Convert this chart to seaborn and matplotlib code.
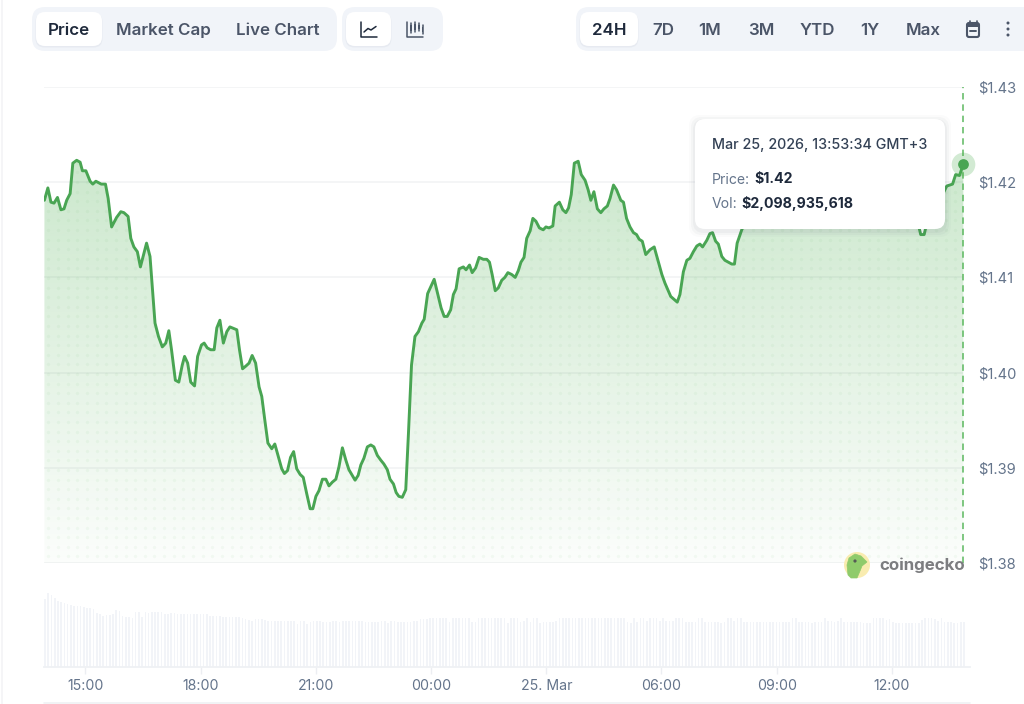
"""CoinGecko style 24H price chart with volume strip, drawn with seaborn."""

import matplotlib
matplotlib.use("Agg")
import matplotlib.pyplot as plt
import numpy as np
import pandas as pd
import seaborn as sns
from matplotlib.patches import Circle, FancyBboxPatch, PathPatch, Polygon, Rectangle
from matplotlib.path import Path

# hours counted from 00:00 on Mar 24
price_hours = [
    13.93, 14.02, 14.10, 14.18, 14.27, 14.36, 14.44, 14.51, 14.60, 14.67, 14.77, 14.86,
    14.92, 15.01, 15.12, 15.19, 15.27, 15.41, 15.52, 15.59, 15.68, 15.81, 15.92, 16.00,
    16.11, 16.18, 16.26, 16.35, 16.43, 16.59, 16.68, 16.77, 16.81, 16.90, 17.00, 17.09,
    17.17, 17.24, 17.34, 17.43, 17.52, 17.58, 17.66, 17.74, 17.84, 17.92, 18.02, 18.09,
    18.17, 18.26, 18.35, 18.42, 18.50, 18.59, 18.68, 18.76, 18.94, 19.01, 19.09, 19.18,
    19.26, 19.34, 19.43, 19.52, 19.59, 19.67, 19.75, 19.85, 19.93, 20.02, 20.11, 20.18,
    20.26, 20.34, 20.42, 20.50, 20.59, 20.67, 20.76, 20.85, 20.92, 21.00, 21.08, 21.17,
    21.26, 21.34, 21.43, 21.52, 21.60, 21.69, 21.78, 21.86, 22.02, 22.10, 22.17, 22.25,
    22.34, 22.43, 22.51, 22.60, 22.69, 22.77, 22.86, 22.93, 23.02, 23.09, 23.16, 23.25,
    23.34, 23.41, 23.49, 23.58, 23.67, 23.76, 23.82, 23.91, 24.00, 24.08, 24.17, 24.26,
    24.34, 24.42, 24.51, 24.58, 24.65, 24.73, 24.84, 24.91, 25.00, 25.07, 25.16, 25.25,
    25.36, 25.45, 25.52, 25.59, 25.67, 25.75, 25.84, 25.92, 26.00, 26.10, 26.19, 26.27,
    26.34, 26.42, 26.49, 26.58, 26.65, 26.73, 26.82, 26.92, 26.99, 27.07, 27.17, 27.23,
    27.34, 27.43, 27.51, 27.58, 27.65, 27.73, 27.83, 27.91, 28.01, 28.09, 28.16, 28.24,
    28.33, 28.42, 28.50, 28.59, 28.66, 28.75, 28.83, 28.94, 29.01, 29.09, 29.18, 29.27,
    29.35, 29.42, 29.50, 29.59, 29.70, 29.81, 29.92, 30.01, 30.09, 30.24, 30.41, 30.48,
    30.57, 30.66, 30.74, 30.83, 30.92, 31.00, 31.07, 31.18, 31.26, 31.33, 31.41, 31.48,
    31.57, 31.65, 31.83, 31.90, 31.97, 32.09, 32.23, 32.62, 33.22, 33.87, 34.52, 35.17,
    35.82, 36.34, 36.71, 36.75, 36.84, 36.88, 37.12, 37.43, 37.58, 37.66, 37.76, 37.86,
]
price_values = [
    1.4181, 1.4194, 1.4179, 1.4178, 1.4184, 1.4171, 1.4172, 1.4181, 1.4188, 1.4220, 1.4223, 1.4221,
    1.4212, 1.4212, 1.4201, 1.4198, 1.4201, 1.4198, 1.4198, 1.4183, 1.4153, 1.4163, 1.4169, 1.4168,
    1.4164, 1.4141, 1.4132, 1.4127, 1.4111, 1.4136, 1.4122, 1.4073, 1.4052, 1.4038, 1.4027, 1.4031,
    1.4044, 1.4024, 1.3992, 1.3990, 1.4008, 1.4017, 1.4010, 1.3990, 1.3986, 1.4017, 1.4029, 1.4031,
    1.4026, 1.4024, 1.4024, 1.4047, 1.4055, 1.4031, 1.4043, 1.4048, 1.4045, 1.4024, 1.4004, 1.4007,
    1.4010, 1.4018, 1.4010, 1.3985, 1.3975, 1.3950, 1.3926, 1.3920, 1.3925, 1.3912, 1.3899, 1.3894,
    1.3897, 1.3911, 1.3917, 1.3899, 1.3893, 1.3890, 1.3873, 1.3857, 1.3857, 1.3870, 1.3876, 1.3888,
    1.3888, 1.3881, 1.3885, 1.3888, 1.3901, 1.3921, 1.3908, 1.3898, 1.3887, 1.3892, 1.3903, 1.3910,
    1.3922, 1.3924, 1.3922, 1.3913, 1.3908, 1.3904, 1.3898, 1.3888, 1.3883, 1.3874, 1.3870, 1.3869,
    1.3877, 1.3936, 1.4008, 1.4038, 1.4043, 1.4052, 1.4056, 1.4083, 1.4091, 1.4098, 1.4083, 1.4068,
    1.4059, 1.4059, 1.4066, 1.4082, 1.4088, 1.4109, 1.4111, 1.4108, 1.4113, 1.4105, 1.4110, 1.4121,
    1.4119, 1.4119, 1.4116, 1.4103, 1.4086, 1.4089, 1.4097, 1.4100, 1.4105, 1.4103, 1.4100, 1.4107,
    1.4116, 1.4121, 1.4141, 1.4149, 1.4162, 1.4159, 1.4152, 1.4150, 1.4153, 1.4152, 1.4154, 1.4175,
    1.4179, 1.4171, 1.4168, 1.4173, 1.4187, 1.4220, 1.4222, 1.4208, 1.4202, 1.4192, 1.4181, 1.4190,
    1.4172, 1.4168, 1.4172, 1.4175, 1.4183, 1.4197, 1.4192, 1.4181, 1.4179, 1.4162, 1.4153, 1.4147,
    1.4145, 1.4140, 1.4138, 1.4124, 1.4129, 1.4132, 1.4116, 1.4103, 1.4094, 1.4080, 1.4074, 1.4082,
    1.4106, 1.4118, 1.4120, 1.4127, 1.4133, 1.4135, 1.4132, 1.4139, 1.4146, 1.4147, 1.4138, 1.4135,
    1.4122, 1.4118, 1.4114, 1.4114, 1.4136, 1.4150, 1.4162, 1.4176, 1.4181, 1.4190, 1.4183, 1.4176,
    1.4183, 1.4171, 1.4152, 1.4145, 1.4145, 1.4152, 1.4171, 1.4196, 1.4198, 1.4208, 1.4207, 1.4219,
]

# 24h volume in billions of USD, one bar every five minutes
volume_values = [
    3.16, 3.44, 3.36, 3.24, 3.10, 3.04, 2.99, 2.93, 2.88, 2.86, 2.86, 2.83, 2.80, 2.77, 2.74, 2.72,
    2.51, 2.46, 2.40, 2.44, 2.44, 2.46, 2.68, 2.62, 2.40, 2.34, 2.32, 2.29, 2.55, 2.55, 2.34, 2.55,
    2.52, 2.55, 2.57, 2.57, 2.55, 2.46, 2.46, 2.51, 2.51, 2.46, 2.46, 2.46, 2.46, 2.46, 2.46, 2.46,
    2.46, 2.46, 2.46, 2.40, 2.40, 2.40, 2.40, 2.34, 2.34, 2.34, 2.34, 2.34, 2.32, 2.29, 2.23, 2.18,
    2.16, 2.23, 2.23, 2.23, 2.20, 2.16, 2.16, 2.16, 2.16, 2.16,
    2.16, 2.16, 2.16, 2.16, 1.99, 2.16, 2.16, 1.99, 2.12, 2.16, 2.16, 2.16, 2.12, 2.12, 2.12, 2.16,
    2.16, 2.12, 2.16, 2.16, 2.16, 2.16, 2.16, 2.16, 2.16, 2.12, 2.12, 2.12, 2.12, 2.12, 2.16, 2.16,
    2.07, 2.16, 2.16, 2.12, 2.12, 2.12, 2.12, 2.12, 2.16, 2.16, 2.23, 2.23, 2.23, 2.27, 2.27, 2.27,
    2.27, 2.27, 2.27, 2.12, 2.27, 2.27, 2.27, 2.27, 2.27, 2.27, 2.12, 2.12, 2.27, 2.27, 2.27, 2.27,
    2.27, 2.27, 2.27, 2.27, 2.27, 2.07, 2.27, 2.27, 2.27, 2.12, 2.16, 2.27,
    2.12, 2.27, 2.27, 2.07, 2.12, 2.12, 2.12, 2.12, 2.16, 2.27, 2.27, 2.27, 2.27, 2.27, 2.27, 2.27,
    2.27, 2.27, 2.27, 2.27, 2.27, 2.27, 2.27, 2.27, 2.27, 2.27, 2.27, 2.27, 2.27, 2.27, 2.12, 2.07,
    2.27, 2.12, 2.27, 2.27, 2.16, 2.27, 2.27, 2.27, 2.16, 2.27, 2.16, 2.16, 2.16, 2.27, 2.27, 2.27,
    2.12, 2.12, 2.12, 2.12, 2.27, 2.27, 2.12, 2.12, 2.12, 2.12, 2.12, 2.07, 2.12, 2.27, 2.27, 2.16,
    2.27, 2.27, 2.12, 2.12, 2.12, 2.12, 2.12,
    2.12, 2.12, 2.12, 2.12, 2.12, 2.12, 2.12, 2.12, 2.12, 2.12, 2.27, 2.27, 2.12, 2.12, 2.12, 2.12,
    2.07, 2.12, 2.12, 2.12, 2.27, 2.16, 2.16, 2.12, 2.16, 2.27, 2.12, 2.12, 2.12, 2.12, 2.12, 2.12,
    2.07, 2.07, 2.07, 2.27, 2.27, 2.27, 2.27, 2.20, 2.23, 2.12, 2.07, 2.04, 2.04, 2.04, 2.04, 2.07,
    2.07, 2.07, 2.20, 2.27, 2.27, 2.27, 2.23, 2.16, 2.27, 2.12, 2.12, 2.12, 2.07, 2.04, 2.10, 2.10,
]

time_ticks = [15, 18, 21, 24, 27, 30, 33, 36]
time_labels = ["15:00", "18:00", "21:00", "00:00", "25. Mar", "06:00", "09:00", "12:00"]
price_ticks = [1.38, 1.39, 1.40, 1.41, 1.42, 1.43]
price_labels = ["$1.38", "$1.39", "$1.40", "$1.41", "$1.42", "$1.43"]

left_tabs = ["Price", "Market Cap", "Live Chart"]
range_tabs = ["24H", "7D", "1M", "3M", "YTD", "1Y", "Max"]

GREEN = "#49a553"
MUTED = "#64748b"
TAB_TEXT = "#4b5568"
DARK = "#1e293b"
PILL = "#f1f4f9"
GRID = "#f1f2f4"
BAR = "#f2f4f8"

sns.set_theme(style="white")
plt.rcParams["font.family"] = ["Inter", "DejaVu Sans"]

W, H = 1024, 704
fig = plt.figure(figsize=(W / 100, H / 100), dpi=100, facecolor="white")


def px_axes(x0, x1, y0, y1, **kw):
    # y0/y1 are measured from the top of the image
    return fig.add_axes([x0 / W, 1 - y1 / H, (x1 - x0) / W, (y1 - y0) / H], **kw)


def hour_at(x):
    return 15 + (x - 85.5) / 38.4


x_lim = (hour_at(44), hour_at(970))

# ── Price panel ──────────────────────────────────────────────────────
ax = px_axes(44, 970, 87, 563)
ax.set_facecolor("none")
ax.hlines(price_ticks, x_lim[0], price_hours[-1], color=GRID, lw=1.1, zorder=1)

df = pd.DataFrame({"hour": price_hours, "price": price_values})
poly = Polygon(
    list(zip(price_hours, price_values))
    + [(price_hours[-1], 1.38), (price_hours[0], 1.38)],
    closed=True, transform=ax.transData, fc="none", ec="none",
)
ax.add_patch(poly)

# vertical fill fading out towards the base of the panel
fade = np.linspace(0.29, 0.02, 256)[:, None]
rgba = np.zeros((256, 1, 4))
rgba[..., :3] = matplotlib.colors.to_rgb("#4caf50")
rgba[..., 3] = fade
im = ax.imshow(
    rgba, extent=(x_lim[0], x_lim[1], 1.38, 1.4223), origin="upper",
    aspect="auto", zorder=2, interpolation="bilinear",
)
im.set_clip_path(poly)

# dotted texture inside the fill
dot_x = np.arange(hour_at(48.3), price_hours[-1], 9.65 / 38.4)
dot_y = np.arange(1.38 + 6.7 / 9520, 1.425, 9.6 / 9520)
gx, gy = np.meshgrid(dot_x, dot_y)
dots = ax.scatter(gx.ravel(), gy.ravel(), s=6, color="#4caf50", alpha=0.05, lw=0, zorder=3)
dots.set_clip_path(poly)

sns.lineplot(
    data=df, x="hour", y="price", ax=ax, color=GREEN, linewidth=2.1,
    estimator=None, errorbar=None, zorder=4,
)
ax.vlines(price_hours[-1], 1.38, 1.43, color="#5cb85f", lw=1.1, linestyles=(0, (4.2, 3.2)), zorder=5)
ax.scatter([price_hours[-1]], [price_values[-1]], s=290, color="#4caf50", alpha=0.25, lw=0, zorder=5, clip_on=False)
ax.scatter([price_hours[-1]], [price_values[-1]], s=60, color=GREEN, lw=0, zorder=6, clip_on=False)

ax.set_xlim(*x_lim)
ax.set_ylim(1.38, 1.43)
ax.set_xticks([])
ax.set_yticks([])
ax.set_xlabel("")
ax.set_ylabel("")
sns.despine(ax=ax, left=True, bottom=True)

# ── Volume panel ─────────────────────────────────────────────────────
vax = px_axes(44, 970, 590, 667)
vax.set_facecolor("none")
vol_hours = np.round(np.linspace(hour_at(45), hour_at(964), len(volume_values)), 4)
sns.barplot(
    x=vol_hours, y=volume_values, ax=vax, native_scale=True,
    color=BAR, saturation=1, width=0.5, errorbar=None, linewidth=0,
)
vax.set_xlim(*x_lim)
vax.set_ylim(0, 3.6)
vax.set_yticks([])
vax.set_xticks(time_ticks)
vax.set_xticklabels(time_labels, fontsize=10.2, color=MUTED)
vax.tick_params(axis="x", length=5, width=1, color="#eceef2", pad=3.6, bottom=True)
vax.set_xlabel("")
vax.set_ylabel("")
sns.despine(ax=vax, left=True)
vax.spines["bottom"].set_color("#eff1f4")
vax.spines["bottom"].set_linewidth(1.3)

# ── Overlay in image pixels: controls, tooltip, logo, axis labels ────
ui = fig.add_axes([0, 0, 1, 1], zorder=10)
ui.set_xlim(0, W)
ui.set_ylim(H, 0)
ui.axis("off")
ui.patch.set_alpha(0)


def pill(x0, y0, x1, y1, r, fc, zorder=1, **kw):
    ui.add_patch(FancyBboxPatch(
        (x0 + r, y0 + r), x1 - x0 - 2 * r, y1 - y0 - 2 * r,
        boxstyle=f"round,pad={r},rounding_size={r}", fc=fc, ec="none", zorder=zorder, **kw,
    ))


def button(x0, y0, x1, y1):
    pill(x0 - 0.5, y0 + 1, x1 + 0.5, y1 + 1.5, 9, "#e3e7ee", zorder=2, alpha=0.7)
    pill(x0, y0, x1, y1, 9, "white", zorder=3)


ui.add_line(plt.Line2D([1.5, 1.5], [0, H], color="#f3f4f6", lw=1.2))
ui.add_line(plt.Line2D([44, 970], [702.5, 702.5], color="#eff1f4", lw=1.2))

pill(32, 7, 337, 51, 13, PILL)
pill(342, 7, 443, 51, 13, PILL)
pill(576, 7, 1040, 51, 13, PILL)
button(36, 12, 102, 46)
button(346, 12, 391, 46)
button(580, 12, 638, 46)

for label, cx, col in zip(left_tabs, [69, 163, 278], [DARK, TAB_TEXT, TAB_TEXT]):
    ui.text(cx, 30.5, label, ha="center", va="center", fontsize=12.2, fontweight="semibold", color=col, zorder=5)
for label, cx, col in zip(range_tabs, [609, 663, 710, 761, 817, 870, 923], [DARK] + [TAB_TEXT] * 6):
    ui.text(cx, 30.5, label, ha="center", va="center", fontsize=12.2, fontweight="semibold", color=col, zorder=5)

# chart type icons
icon_kw = dict(color=DARK, lw=1.1, solid_capstyle="round", zorder=5)
ui.plot([361, 361, 377], [21.5, 36.5, 36.5], **icon_kw)
ui.plot([364, 368, 371, 376], [32, 28.5, 30, 26.5], **icon_kw)
bar_kw = dict(color=TAB_TEXT, lw=1.1, zorder=5)
ui.plot([407, 407, 423], [21.5, 36.5, 36.5], **bar_kw)
for bx, top, bot in [(411, 23, 33), (415, 22, 32), (419, 23, 31), (422.5, 25, 34)]:
    ui.plot([bx, bx], [top, bot], **bar_kw)
    ui.add_patch(Rectangle((bx - 0.9, top + 2), 1.8, bot - top - 4, fc=TAB_TEXT, ec="none", zorder=5))

# calendar and menu icons
ui.add_patch(FancyBboxPatch((968, 24), 10, 12, boxstyle="round,pad=1,rounding_size=2", fc="none", ec=TAB_TEXT, lw=1.5, zorder=5))
ui.add_patch(Rectangle((967, 22.5), 12, 4, fc=TAB_TEXT, ec="none", zorder=5))
ui.plot([969.5, 969.5], [21, 23], color=TAB_TEXT, lw=1.2, zorder=5)
ui.plot([976.5, 976.5], [21, 23], color=TAB_TEXT, lw=1.2, zorder=5)
ui.plot([970, 976], [30.5, 30.5], color=TAB_TEXT, lw=1.4, zorder=5)
for dy in [23, 29, 35]:
    ui.add_patch(Circle((1008, dy), 1.5, fc=TAB_TEXT, ec="none", zorder=5))

# price axis labels sit right of the plot
for val, label in zip(price_ticks, price_labels):
    ui.text(978.5, 564.5 - (val - 1.38) * 9520, label, ha="left", va="center", fontsize=10.6, color=MUTED)

# tooltip card
for grow, alpha in [(6, 0.02), (4, 0.03), (2, 0.04)]:
    pill(695 - grow, 119 - grow + 2, 945 + grow, 229 + grow + 2, 11, "#334155", zorder=6, alpha=alpha)
pill(695, 119, 945, 229, 10, "white", zorder=7)
ui.text(712, 145.5, "Mar 25, 2026, 13:53:34 GMT+3", va="center", fontsize=10.3, fontweight="medium", color="#334155", zorder=8)
ui.text(712, 179.5, "Price:", va="center", fontsize=10.1, color=MUTED, zorder=8)
ui.text(754.5, 179.5, "$1.42", va="center", fontsize=10.2, fontweight="bold", color=DARK, zorder=8)
ui.text(712, 203.5, "Vol:", va="center", fontsize=10.1, color=MUTED, zorder=8)
ui.text(741.5, 203.5, "$2,098,935,618", va="center", fontsize=10.2, fontweight="bold", color=DARK, zorder=8)

# watermark
ui.add_patch(Circle((857, 565), 13, fc="#f9ecb0", ec="none", zorder=6))
gecko = Path(
    [(848, 575), (847, 565), (849, 558), (855, 554), (861, 556), (867, 562), (862, 566), (860, 571), (857, 578), (851, 578), (848, 575)],
    [Path.MOVETO] + [Path.LINETO] * 9 + [Path.CLOSEPOLY],
)
ui.add_patch(PathPatch(gecko, fc="#8fcb6b", ec="#8fcb6b", lw=0.5, zorder=7))
ui.add_patch(Circle((855, 561), 1.6, fc="#555b55", ec="none", zorder=8))
ui.text(879, 565, "coingecko", va="center", fontsize=12.2, fontweight="bold", color="#7c7d80", zorder=6)

fig.savefig("out.png", dpi=100)
